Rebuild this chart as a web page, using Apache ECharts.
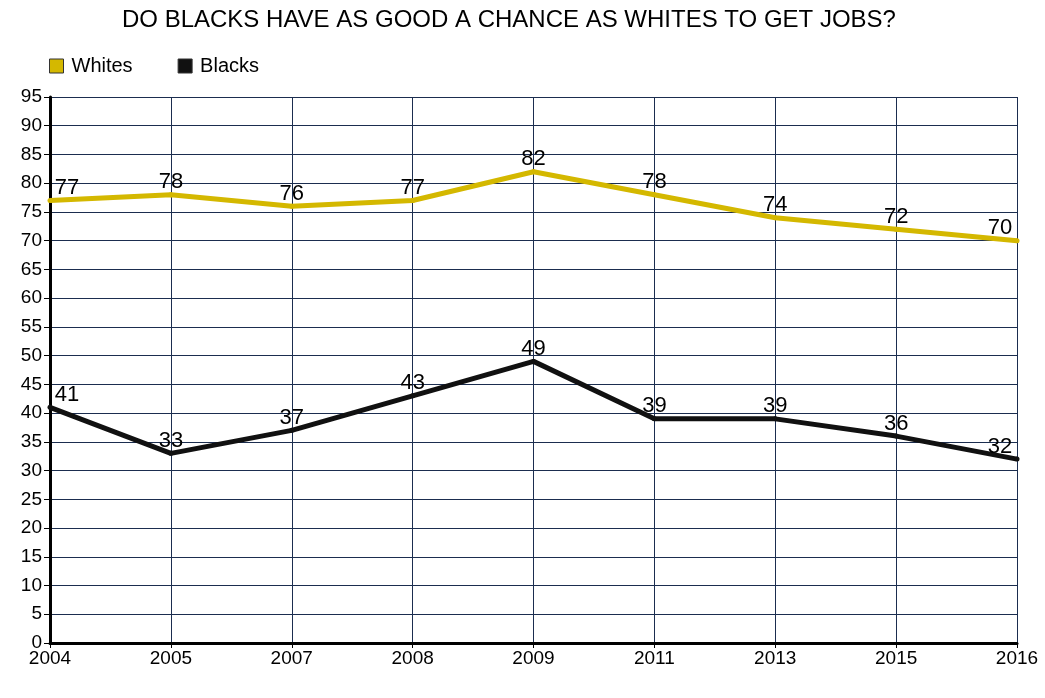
<!DOCTYPE html>
<html><head><meta charset="utf-8">
<script src="https://cdn.jsdelivr.net/npm/echarts@6/dist/echarts.min.js"></script>
<style>html,body{margin:0;padding:0;background:#fff}#c{width:1045px;height:698px}</style>
</head><body><div id="c"></div>
<script>
const years = ['2004','2005','2007','2008','2009','2011','2013','2015','2016'];
const whites = [77,78,76,77,82,78,74,72,70];
const blacks = [41,33,37,43,49,39,39,36,32];
const yTicks = {min:0, max:95, interval:5};

function lab(arr){
  return arr.map((v,i)=>{
    const d={value:v};
    if(i===0) d.label={offset:[17,0]};
    if(i===arr.length-1) d.label={offset:[-17,0]};
    return d;
  });
}
const font = 'Liberation Sans, Arial, sans-serif';
const chart = echarts.init(document.getElementById('c'));
chart.setOption({
  animation:false,
  title:{text:'DO BLACKS HAVE AS GOOD A CHANCE AS WHITES TO GET JOBS?',left:117,top:3,
    textStyle:{fontFamily:font,fontSize:24,fontWeight:'normal',color:'#000'}},
  legend:{left:44,top:51,itemWidth:14,itemHeight:14,itemGap:45,icon:'rect',
    textStyle:{fontFamily:font,fontSize:20,color:'#000',padding:[0,0,0,3]},
    data:[{name:'Whites',itemStyle:{color:'#d4b800',borderColor:'#333',borderWidth:1,opacity:1}},
          {name:'Blacks',itemStyle:{color:'#111',borderColor:'#333',borderWidth:1,opacity:1}}]},
  grid:{left:50,right:28,top:97,bottom:55},
  xAxis:{type:'category',data:years,boundaryGap:false,
    axisLine:{lineStyle:{color:'#000',width:3}},
    axisTick:{show:true,length:5,lineStyle:{color:'#000',width:1}},
    axisLabel:{fontFamily:font,fontSize:19,color:'#000',margin:6},
    splitLine:{show:true,lineStyle:{color:'#1b2d4f',width:1}}},
  yAxis:{type:'value',min:yTicks.min,max:yTicks.max,interval:yTicks.interval,
    axisLine:{show:true,lineStyle:{color:'#000',width:3}},
    axisTick:{show:true,length:6,lineStyle:{color:'#000',width:1}},
    axisLabel:{fontFamily:font,fontSize:19,color:'#000',margin:8},
    splitLine:{show:true,lineStyle:{color:'#1b2d4f',width:1}}},
  series:[
    {name:'Whites',type:'line',data:lab(whites),symbol:'circle',symbolSize:5,showAllSymbol:true,
      lineStyle:{color:'#d4b800',width:5},itemStyle:{color:'#d4b800'},
      label:{show:true,position:'top',distance:-1,fontFamily:font,fontSize:22,color:'#000'}},
    {name:'Blacks',type:'line',data:lab(blacks),symbol:'circle',symbolSize:5,showAllSymbol:true,
      lineStyle:{color:'#111',width:5},itemStyle:{color:'#111'},
      label:{show:true,position:'top',distance:-1,fontFamily:font,fontSize:22,color:'#000'}}
  ]
});
</script></body></html>
